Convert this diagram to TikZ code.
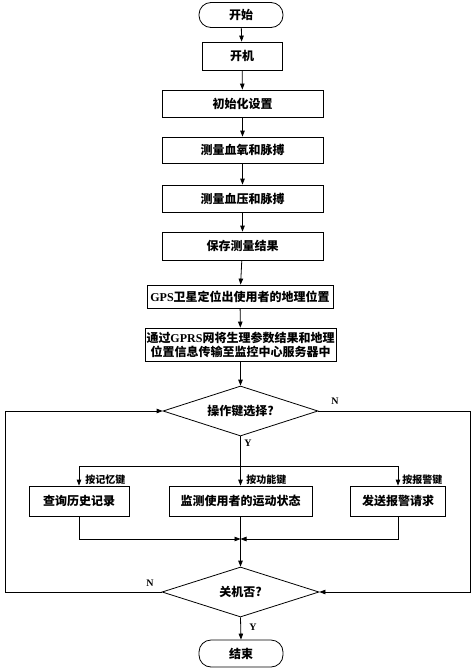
\documentclass[tikz,border=0pt]{standalone}
\usepackage{fontspec}
\setmainfont{Liberation Serif}
\newfontfamily\cjk{Noto Sans CJK SC}
\usetikzlibrary{shapes.geometric,arrows.meta}
\newcommand{\lat}[1]{{\rmfamily\bfseries #1}}
\begin{document}
\begin{tikzpicture}[x=1pt,y=-1pt,
  line width=0.8pt,
  arr/.style={-{Triangle[length=6pt,width=4.5pt]}},
  box/.style={draw,rectangle,inner sep=0pt,font=\cjk\bfseries\fontsize{12}{14}\selectfont,align=center},
  term/.style={box,rounded corners=12pt},
  dia/.style={draw,diamond,aspect=3,inner sep=0pt,font=\cjk\bfseries\fontsize{12}{14}\selectfont},
  lab/.style={font=\cjk\bfseries\fontsize{10}{12}\selectfont,inner sep=1pt},
  yn/.style={font=\rmfamily\bfseries\fontsize{10}{12}\selectfont,inner sep=1pt}]
\useasboundingbox (0,0) rectangle (474,672);
\node[term,minimum width=84pt,minimum height=25pt] (start) at (241,15) {开始};
\node[box,minimum width=80pt,minimum height=28pt] (kaiji) at (242,56) {开机};
\node[box,minimum width=161pt,minimum height=27pt] (init) at (242.5,103.5) {初始化设置};
\node[box,minimum width=161pt,minimum height=26pt] (m1) at (242.5,150) {测量血氧和脉搏};
\node[box,minimum width=161pt,minimum height=27pt] (m2) at (242.5,198.5) {测量血压和脉搏};
\node[box,minimum width=161pt,minimum height=28pt] (save) at (242.5,246) {保存测量结果};
\node[box,minimum width=186pt,minimum height=23pt] (gps) at (240,296.5) {\lat{GPS}卫星定位出使用者的地理位置};
\node[box,minimum width=191pt,minimum height=33pt] (gprs) at (240.5,344.5) {通过\lat{GPRS}网将生理参数结果和地理\\位置信息传输至监控中心服务器中};
\node[dia,minimum width=155pt,minimum height=50pt] (d1) at (240.5,411) {操作键选择?};
\node[box,minimum width=100pt,minimum height=30pt] (b1) at (79,501) {查询历史记录};
\node[box,minimum width=143pt,minimum height=30pt] (b2) at (240.5,501) {监测使用者的运动状态};
\node[box,minimum width=95pt,minimum height=30pt] (b3) at (398,501) {发送报警请求};
\node[dia,minimum width=157pt,minimum height=50pt] (d2) at (240.5,592) {关机否?};
\node[term,minimum width=84pt,minimum height=27pt] (end) at (241,653.5) {结束};
\coordinate (br) at (240.5,466);
\coordinate (mg) at (240.5,539);
\coordinate (lt) at (5,411);
\coordinate (lb) at (5,592);
\coordinate (rt) at (470,411);
\coordinate (rb) at (470,592);
\draw[arr] (start) -- (kaiji);
\draw[arr] (kaiji) -- (init);
\draw[arr] (init) -- (m1);
\draw[arr] (m1) -- (m2);
\draw[arr] (m2) -- (save);
\draw[arr] (save) -- (gps);
\draw[arr] (gps) -- (gprs);
\draw[arr] (gprs) -- (d1);
\draw[arr] (d1.south) -- (b2.north);
\draw[arr] (br) -| (b1.north);
\draw[arr] (br) -| (b3.north);
\draw[arr] (b1.south) |- (mg);
\draw[arr] (b3.south) |- (mg);
\draw[arr] (b2.south) -- (d2.north);
\draw[arr] (d2.west) -- (lb) -- (lt) -- (d1.west);
\draw[arr] (d1.east) -- (rt) -- (rb) -- (d2.east);
\draw[arr] (d2.south) -- (end.north);
\node[yn,anchor=west] (y1) at (243,443) {Y};
\node[yn] (n1) at (335,401) {N};
\node[yn] (n2) at (150,583) {N};
\node[yn,anchor=west] (y2) at (248,627) {Y};
\node[lab,anchor=west] (l1) at (84,480) {按记忆键};
\node[lab,anchor=west] (l2) at (245,480) {按功能键};
\node[lab,anchor=west] (l3) at (401,480) {按报警键};
\end{tikzpicture}
\end{document}
